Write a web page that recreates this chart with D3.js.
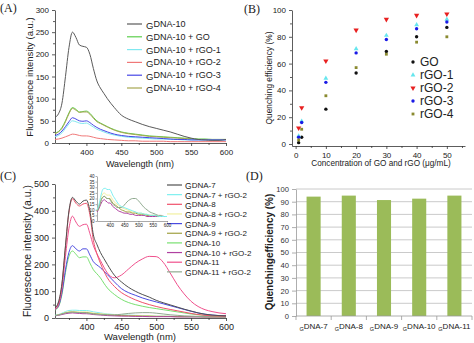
<!DOCTYPE html>
<html lang="en">
<head>
<meta charset="utf-8">
<style>
  body { margin: 0; background: white; }
  svg { font-family: "Liberation Sans", Arial, sans-serif; }
  .plabel { font-family: "Liberation Serif", serif; font-size: 12px; fill: #222; }
</style>
</head>
<body>
<script src="https://cdnjs.cloudflare.com/ajax/libs/d3/7.8.5/d3.min.js"></script>
<script>
// ---- data ----
const wl = [355, 360, 365, 370, 375, 380, 385, 390, 395, 400, 405, 410, 415, 420, 425, 430,
            440, 450, 460, 470, 480, 490, 500, 510, 520, 530, 540, 550, 560, 570, 580, 590, 600];

// panel A spectra
const aNames = ["DNA-10", "DNA-10 + GO", "DNA-10 + rGO-1", "DNA-10 + rGO-2", "DNA-10 + rGO-3", "DNA-10 + rGO-4"];
const aGdna10 = [58, 66, 90, 150, 215, 250, 238, 221, 218, 216, 200, 168, 140, 124, 112, 100, 80, 63, 54, 48, 42, 37, 33, 29, 25, 20, 15, 11, 8, 7, 6, 6, 8];
const aGO     = [22, 26, 35, 50, 68, 80, 76, 70, 71, 72, 67, 58, 50, 45, 41, 37, 30, 25, 22, 20, 18, 16, 15, 14, 13, 12, 11, 10, 9, 9, 8, 8, 8];
const aRGO1   = [14, 17, 23, 33, 43, 50, 48, 45, 44, 45, 41, 36, 31, 28, 25, 22, 18, 15, 13, 12, 11, 10, 9, 9, 8, 8, 7, 7, 7, 7, 7, 7, 7];
const aRGO2   = [8, 9, 11, 14, 17, 20, 19, 17, 16, 16, 15, 13, 11, 10, 9, 8, 7, 6, 5, 5, 4, 4, 4, 4, 3, 3, 3, 3, 3, 3, 3, 3, 3];
const aRGO3   = [17, 20, 27, 37, 48, 57, 54, 50, 49, 50, 46, 40, 35, 31, 28, 25, 20, 17, 15, 14, 13, 12, 11, 10, 9, 8, 8, 7, 7, 7, 7, 7, 7];
const aRGO4   = [21, 25, 33, 48, 66, 78, 74, 69, 70, 70, 65, 56, 48, 44, 40, 36, 29, 24, 21, 19, 17, 15, 14, 13, 12, 11, 10, 9, 8, 8, 8, 8, 8];
const aColors = ["#5a5a5a", "#5ccf4c", "#80e8f0", "#f07878", "#4646e6", "#a6a650"];

// panel B quenching efficiency
const conc = [1, 2, 10, 20, 30, 40, 50];
const bNames = ["GO", "rGO-1", "rGO-2", "rGO-3", "rGO-4"];
const qeGO   = [1, 5, 26, 53, 69, 80, 87];
const qeRGO1 = [6, 17, 49, 71, 81, 89, 93];
const qeRGO2 = [12, 27, 62, 85, 93, 96, 97];
const qeRGO3 = [5, 16, 46, 68, 78, 86, 91];
const qeRGO4 = [3, 11, 36, 57, 67, 76, 80];
const bColors = ["#111111", "#66e6ee", "#e82020", "#1a1ae6", "#8a8a30"];

// panel C spectra
const cNames = ["DNA-7", "DNA-7 + rGO-2", "DNA-8", "DNA-8 + rGO-2", "DNA-9", "DNA-9 + rGO-2",
                "DNA-10", "DNA-10 + rGO-2", "DNA-11", "DNA-11 + rGO-2"];
const cG7    = [38, 60, 130, 270, 400, 450, 436, 425, 436, 440, 400, 310, 275, 245, 222, 200, 160, 135, 115, 100, 88, 78, 66, 57, 49, 41, 33, 26, 19, 14, 11, 9, 8];
const cG7r   = [10, 13, 18, 24, 28, 29, 29, 28, 28, 28, 26, 23, 21, 19, 17, 15, 13, 12, 11, 10, 9, 8, 7, 7, 6, 6, 5, 5, 5, 4, 4, 4, 4];
const cG8    = [35, 56, 125, 265, 395, 445, 428, 418, 425, 428, 385, 290, 240, 205, 175, 150, 118, 95, 80, 68, 58, 50, 43, 37, 32, 27, 22, 17, 13, 10, 8, 7, 7];
const cG8r   = [9, 12, 16, 21, 24, 25, 24, 23, 23, 23, 21, 19, 17, 16, 15, 14, 12, 11, 10, 9, 8, 8, 7, 7, 6, 6, 5, 5, 5, 4, 4, 4, 4];
const cG9    = [32, 45, 95, 180, 245, 270, 258, 250, 258, 258, 235, 210, 198, 188, 175, 162, 135, 110, 95, 85, 75, 67, 60, 53, 46, 39, 32, 25, 19, 14, 11, 9, 8];
const cG9r   = [9, 11, 15, 19, 21, 22, 21, 20, 20, 20, 18, 16, 15, 14, 13, 12, 10, 9, 8, 8, 7, 7, 6, 6, 6, 5, 5, 5, 5, 4, 4, 4, 4];
const cG10   = [30, 42, 88, 170, 230, 250, 238, 225, 228, 228, 205, 180, 165, 150, 130, 112, 88, 70, 58, 50, 44, 39, 35, 31, 27, 23, 19, 15, 12, 10, 8, 7, 7];
const cG10r  = [8, 10, 13, 16, 18, 19, 18, 17, 16, 16, 15, 13, 12, 11, 10, 9, 8, 7, 7, 6, 6, 5, 5, 5, 5, 4, 4, 4, 4, 4, 4, 4, 4];
const cG11   = [32, 50, 110, 230, 335, 380, 358, 342, 348, 350, 315, 270, 240, 215, 190, 168, 150, 160, 182, 204, 220, 230, 229, 208, 168, 125, 90, 62, 43, 31, 24, 19, 16];
const cG11r  = [9, 11, 15, 19, 21, 22, 21, 20, 20, 19, 17, 15, 14, 13, 12, 12, 12, 14, 17, 19, 20, 20, 18, 15, 12, 10, 8, 7, 6, 5, 5, 4, 4];
const cColors = ["#505050", "#7ef0f0", "#f0506a", "#f2f0a0", "#4a4ae0", "#a0a040",
                 "#78e070", "#b040a0", "#f0508c", "#90aa90"];

// panel D
const dCats = ["DNA-7", "DNA-8", "DNA-9", "DNA-10", "DNA-11"];
const dQE = [94, 94.8, 91.3, 92.4, 94.8];

// ---- drawing ----
const svg = d3.select("body").append("svg").attr("width", 474).attr("height", 343);
svg.append("rect").attr("width", 474).attr("height", 343).attr("fill", "white");

function styleAxis(g, fs, col) {
  g.attr("font-family", null).attr("font-size", null);
  g.selectAll("path.domain").attr("stroke", col || "#333").attr("stroke-width", 0.8);
  g.selectAll(".tick line").attr("stroke", col || "#333").attr("stroke-width", 0.8);
  g.selectAll("text").attr("font-size", fs).attr("fill", "#222");
}

// label with the small G prefix
function gText(sel, rest, gSize, gShift) {
  sel.append("tspan").attr("font-size", gSize).attr("dy", gShift).text("G");
  sel.append("tspan").attr("dy", -gShift).text(rest);
}

function minorTicks(g, axisFn, vals, size) {
  g.call(axisFn.tickValues(vals).tickSize(size).tickFormat(""));
  g.select("path.domain").remove();
  g.selectAll(".tick line").attr("stroke", "#333").attr("stroke-width", 0.8);
}

// ===== Panel A =====
const xA = d3.scaleLinear([355, 600], [55, 226]);
const yA = d3.scaleLinear([0, 300], [143, 10]);
const gA = svg.append("g");

gA.append("g").attr("transform", "translate(0,143)")
  .call(d3.axisBottom(xA).tickValues([400, 450, 500, 550, 600]).tickSize(3).tickSizeOuter(0))
  .call(g => styleAxis(g, 8));
minorTicks(gA.append("g").attr("transform", "translate(0,143)"), d3.axisBottom(xA), [375, 425, 475, 525, 575], 2);
gA.append("g").attr("transform", "translate(55,0)")
  .call(d3.axisLeft(yA).tickValues([0, 50, 100, 150, 200, 250, 300]).tickSize(3).tickSizeOuter(0))
  .call(g => styleAxis(g, 8));
minorTicks(gA.append("g").attr("transform", "translate(55,0)"), d3.axisLeft(yA), [25, 75, 125, 175, 225, 275], 2);

const lineA = d3.line().x((d, i) => xA(wl[i])).y(d => yA(d)).curve(d3.curveMonotoneX);
const aSeries = [aGdna10, aGO, aRGO1, aRGO2, aRGO3, aRGO4];
[1, 5, 2, 4, 3, 0].forEach(k => {
  gA.append("path").attr("d", lineA(aSeries[k])).attr("fill", "none")
    .attr("stroke", aColors[k]).attr("stroke-width", 1);
});

aNames.forEach((n, i) => {
  const y = 24 + i * 12.8;
  gA.append("line").attr("x1", 127).attr("x2", 142).attr("y1", y).attr("y2", y)
    .attr("stroke", aColors[i]).attr("stroke-width", 1.2);
  const t = gA.append("text").attr("x", 146).attr("y", y + 3).attr("font-size", 9).attr("fill", "#222");
  gText(t, n, 9.5, 1.5);
});

gA.append("text").attr("x", 140).attr("y", 167).attr("text-anchor", "middle")
  .attr("font-size", 9).attr("fill", "#222").text("Wavelength (nm)");
gA.append("text").attr("transform", "translate(33,77) rotate(-90)").attr("text-anchor", "middle")
  .attr("font-size", 9.5).attr("fill", "#222").text("Fluorescence intensity (a.u.)");
gA.append("text").attr("class", "plabel").attr("x", 0).attr("y", 12).text("(A)");

// ===== Panel B =====
const xB = d3.scaleLinear([-1.2, 56], [292, 465]);
const yB = d3.scaleLinear([-1.5, 100], [146, 10]);
const gB = svg.append("g");

gB.append("g").attr("transform", "translate(0,146)")
  .call(d3.axisBottom(xB).tickValues([0, 10, 20, 30, 40, 50]).tickSize(3).tickSizeOuter(0))
  .call(g => styleAxis(g, 8));
minorTicks(gB.append("g").attr("transform", "translate(0,146)"), d3.axisBottom(xB), [5, 15, 25, 35, 45, 55], 2);
gB.append("g").attr("transform", "translate(292,0)")
  .call(d3.axisLeft(yB).tickValues([0, 20, 40, 60, 80, 100]).tickSize(3).tickSizeOuter(0))
  .call(g => styleAxis(g, 8));
minorTicks(gB.append("g").attr("transform", "translate(292,0)"), d3.axisLeft(yB), [10, 30, 50, 70, 90], 2);

const bSeries = [qeGO, qeRGO1, qeRGO2, qeRGO3, qeRGO4];
const bSymbols = [
  d3.symbol().type(d3.symbolCircle).size(9),
  d3.symbol().type(d3.symbolTriangle).size(10),
  d3.symbol().type(d3.symbolTriangle).size(12),
  d3.symbol().type(d3.symbolCircle).size(9),
  d3.symbol().type(d3.symbolSquare).size(8)
];
const bRot = [0, 0, 180, 0, 0];
bSeries.forEach((s, k) => {
  gB.selectAll(null).data(s).enter().append("path")
    .attr("d", bSymbols[k]())
    .attr("transform", (d, i) => `translate(${xB(conc[i])},${yB(d)}) rotate(${bRot[k]})`)
    .attr("fill", bColors[k]);
});
bNames.forEach((n, i) => {
  const y = 62 + i * 13;
  gB.append("path").attr("d", bSymbols[i]()).attr("transform", `translate(413,${y}) rotate(${bRot[i]})`)
    .attr("fill", bColors[i]);
  gB.append("text").attr("x", 420).attr("y", y + 4).attr("font-size", 12).attr("fill", "#222").text(n);
});

gB.append("text").attr("x", 381).attr("y", 166).attr("text-anchor", "middle")
  .attr("font-size", 8.2).attr("fill", "#222").text("Concentration of GO and rGO (\u03bcg/mL)");
gB.append("text").attr("transform", "translate(272,78) rotate(-90)").attr("text-anchor", "middle")
  .attr("font-size", 8.4).attr("fill", "#222").text("Quenching efficiency (%)");
gB.append("text").attr("class", "plabel").attr("x", 244).attr("y", 13).text("(B)");

// ===== Panel C =====
const xC = d3.scaleLinear([355, 600], [55, 226]);
const yC = d3.scaleLinear([0, 500], [318, 184]);
const gC = svg.append("g");

gC.append("g").attr("transform", "translate(0,318)")
  .call(d3.axisBottom(xC).tickValues([400, 450, 500, 550, 600]).tickSize(3).tickSizeOuter(0))
  .call(g => styleAxis(g, 9));
minorTicks(gC.append("g").attr("transform", "translate(0,318)"), d3.axisBottom(xC), [375, 425, 475, 525, 575], 2);
gC.append("g").attr("transform", "translate(55,0)")
  .call(d3.axisLeft(yC).tickValues([0, 100, 200, 300, 400, 500]).tickSize(3).tickSizeOuter(0))
  .call(g => styleAxis(g, 9));
minorTicks(gC.append("g").attr("transform", "translate(55,0)"), d3.axisLeft(yC), [50, 150, 250, 350, 450], 2);

const cSeries = [cG7, cG7r, cG8, cG8r, cG9, cG9r, cG10, cG10r, cG11, cG11r];
const lineC = d3.line().x((d, i) => xC(wl[i])).y(d => yC(d)).curve(d3.curveMonotoneX);
[1, 3, 5, 7, 9, 6, 4, 8, 2, 0].forEach(k => {
  gC.append("path").attr("d", lineC(cSeries[k])).attr("fill", "none")
    .attr("stroke", cColors[k]).attr("stroke-width", 1);
});

cNames.forEach((n, i) => {
  const y = 185 + i * 9.65;
  gC.append("line").attr("x1", 167).attr("x2", 182).attr("y1", y).attr("y2", y)
    .attr("stroke", cColors[i]).attr("stroke-width", 1.2);
  const t = gC.append("text").attr("x", 185).attr("y", y + 3).attr("font-size", 8).attr("fill", "#222");
  gText(t, n, 8.5, 1.2);
});

// inset
const xI = d3.scaleLinear([355, 600], [97, 167]);
const yI = d3.scaleLinear([0, 40], [221, 176]);
const gI = gC.append("g");
gI.append("g").attr("transform", "translate(0,221)")
  .call(d3.axisBottom(xI).tickValues([400, 450, 500, 550, 600]).tickSize(1.5).tickPadding(1).tickSizeOuter(0))
  .call(g => styleAxis(g, 4.5, "#555"));
gI.append("g").attr("transform", "translate(97,0)")
  .call(d3.axisLeft(yI).tickValues([0, 5, 10, 15, 20, 25, 30, 35, 40]).tickSize(1.5).tickPadding(1).tickSizeOuter(0))
  .call(g => styleAxis(g, 4.5, "#555"));
gI.selectAll("path.domain, .tick line").attr("stroke-width", 0.5);
const lineI = d3.line().x((d, i) => xI(wl[i])).y(d => yI(d)).curve(d3.curveMonotoneX);
[3, 7, 5, 9, 1].forEach(k => {
  gI.append("path").attr("d", lineI(cSeries[k])).attr("fill", "none")
    .attr("stroke", cColors[k]).attr("stroke-width", 1);
});

gC.append("text").attr("x", 140).attr("y", 340).attr("text-anchor", "middle")
  .attr("font-size", 9.5).attr("fill", "#222").text("Wavelength (nm)");
gC.append("text").attr("transform", "translate(31,251) rotate(-90)").attr("text-anchor", "middle")
  .attr("font-size", 10.5).attr("fill", "#222").text("Fluorescence intensity (a.u.)");
gC.append("text").attr("class", "plabel").attr("x", 0).attr("y", 180).text("(C)");

// ===== Panel D =====
const xD = d3.scaleBand(dCats, [296, 472]).paddingInner(0.6).paddingOuter(0.3);
const yD = d3.scaleLinear([0, 100], [316, 189]);
const gD = svg.append("g");

gD.append("g").selectAll("line").data(yD.ticks(10).filter(v => v > 0)).enter().append("line")
  .attr("x1", 296).attr("x2", 472).attr("y1", d => yD(d)).attr("y2", d => yD(d))
  .attr("stroke", "#bdbdbd").attr("stroke-width", 0.8);

const yAxD = gD.append("g").attr("transform", "translate(296,0)")
  .call(d3.axisLeft(yD).ticks(10).tickSize(4).tickSizeOuter(0))
  .call(g => styleAxis(g, 7.6, "#999"));
yAxD.selectAll("text").attr("fill", "#333");

gD.selectAll("rect.bar").data(dQE).enter().append("rect")
  .attr("x", (d, i) => xD(dCats[i])).attr("width", xD.bandwidth())
  .attr("y", d => yD(d)).attr("height", d => yD(0) - yD(d))
  .attr("fill", "#9bbb59");

// x axis line and category divider ticks
gD.append("line").attr("x1", 296).attr("x2", 472).attr("y1", yD(0)).attr("y2", yD(0))
  .attr("stroke", "#999").attr("stroke-width", 0.8);
gD.selectAll("line.div").data(d3.range(dCats.length + 1)).enter().append("line")
  .attr("x1", i => 296 + i * xD.step()).attr("x2", i => 296 + i * xD.step())
  .attr("y1", yD(0)).attr("y2", yD(0) + 4)
  .attr("stroke", "#999").attr("stroke-width", 0.8);

dCats.forEach(c => {
  const t = gD.append("text").attr("x", xD(c) + xD.bandwidth() / 2).attr("y", 329)
    .attr("text-anchor", "middle").attr("font-size", 8).attr("fill", "#222");
  gText(t, c, 5.5, 1.5);
});

gD.append("text").attr("transform", "translate(273,252) rotate(-90)").attr("text-anchor", "middle")
  .attr("font-size", 10).attr("font-weight", "bold").attr("fill", "#222")
  .text("Quenchingefficiency (%)");
gD.append("text").attr("class", "plabel").attr("x", 246).attr("y", 180).text("(D)");
</script>
</body>
</html>
